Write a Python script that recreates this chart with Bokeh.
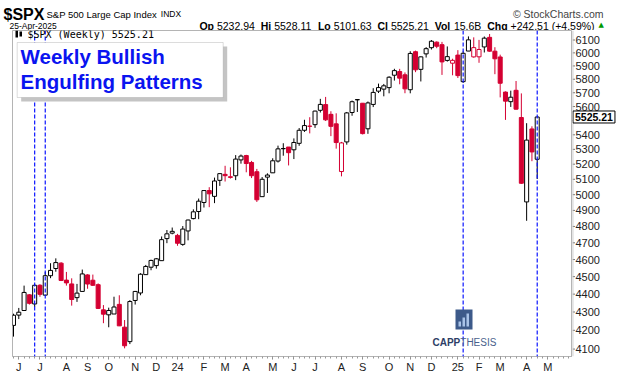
import pandas as pd
from bokeh.plotting import figure
from bokeh.layouts import column, row
from bokeh.models import (Range1d, FixedTicker, Span, Label, BoxAnnotation, ColumnDataSource)
from bokeh.core.properties import value
from bokeh.embed import file_html
from bokeh.resources import INLINE

# ---------------- data ----------------
week_end = pd.date_range("2023-06-02", periods=100, freq="W-FRI")
opens = [4226.71, 4282.99, 4308.32, 4396.11, 4344.84, 4450.48, 4394.24, 4505.42, 4547.38, 4578.83,
         4479.98, 4458.13, 4380.28, 4415.33, 4510.06, 4479.39, 4453.75, 4312.00, 4284.52, 4289.02,
         4342.37, 4217.04, 4139.39, 4364.27, 4406.66, 4511.70, 4554.86, 4564.37, 4593.39, 4725.58,
         4758.86, 4745.20, 4690.57, 4772.35, 4848.66, 4892.95, 4950.16, 5026.83, 4989.32, 5093.00,
         5132.38, 5111.96, 5123.31, 5228.75, 5257.97, 5211.37, 5149.67, 4987.33, 5114.13, 5142.42,
         5221.10, 5305.35, 5315.91, 5297.15, 5341.22, 5431.60, 5459.58, 5471.08, 5572.75, 5614.05,
         5544.00, 5476.55, 5151.14, 5351.00, 5557.00, 5650.00, 5623.89, 5442.07, 5615.21, 5711.90,
         5726.52, 5737.80, 5830.00, 5857.82, 5833.00, 5722.43, 6008.86, 5874.17, 5992.28, 6040.11,
         6083.18, 6063.48, 5942.00, 5920.67, 5982.81, 5782.00, 6014.00, 5969.04, 5969.65, 6046.00,
         6121.00, 6013.00, 5968.33, 5705.00, 5635.00, 5718.08, 5521.52, 4953.79, 5441.00, 5232.94]
highs = [4290.67, 4322.62, 4448.47, 4400.15, 4458.48, 4456.46, 4527.76, 4578.43, 4607.07, 4584.62,
         4527.37, 4490.33, 4458.30, 4541.25, 4514.29, 4511.99, 4461.03, 4338.51, 4324.10, 4385.46,
         4393.57, 4255.84, 4366.21, 4418.03, 4520.12, 4568.43, 4599.39, 4609.23, 4738.57, 4778.01,
         4793.30, 4754.33, 4802.40, 4842.07, 4906.69, 4975.29, 5030.06, 5048.39, 5111.06, 5140.33,
         5189.26, 5179.14, 5261.10, 5264.85, 5263.00, 5222.00, 5168.43, 5114.62, 5139.12, 5239.66,
         5325.49, 5341.88, 5315.91, 5375.08, 5447.25, 5505.53, 5523.64, 5570.33, 5655.56, 5669.67,
         5566.16, 5551.51, 5351.00, 5561.00, 5643.22, 5651.62, 5623.89, 5636.27, 5733.57, 5767.37,
         5765.00, 5822.13, 5878.46, 5878.00, 5850.94, 6012.45, 6017.31, 5972.90, 6044.17, 6099.97,
         6089.00, 6085.19, 6049.75, 5955.00, 6021.04, 6011.00, 6128.18, 6120.91, 6101.00, 6127.47,
         6147.43, 6043.65, 5986.09, 5710.00, 5715.33, 5786.95, 5695.31, 5481.34, 5459.46, 5528.11]
lows = [4166.15, 4261.07, 4307.18, 4341.34, 4328.08, 4384.97, 4389.92, 4491.15, 4528.56, 4474.55,
        4448.47, 4335.31, 4356.29, 4414.98, 4430.46, 4446.59, 4316.49, 4238.63, 4216.45, 4289.02,
        4223.03, 4103.78, 4126.28, 4341.34, 4393.57, 4511.70, 4537.24, 4546.50, 4593.39, 4697.82,
        4751.63, 4682.11, 4682.11, 4714.82, 4844.05, 4845.15, 4918.09, 4920.31, 4946.00, 5056.82,
        5085.36, 5104.35, 5094.34, 5203.42, 5146.06, 5107.94, 4953.56, 4987.33, 5011.05, 5142.42,
        5211.16, 5256.93, 5191.68, 5234.32, 5324.32, 5420.00, 5410.00, 5448.39, 5557.00, 5497.04,
        5390.95, 5305.00, 5119.26, 5332.00, 5534.00, 5560.95, 5402.62, 5406.96, 5596.00, 5698.00,
        5674.00, 5696.00, 5790.00, 5762.41, 5696.51, 5696.00, 5853.00, 5783.44, 5963.91, 6026.00,
        6036.00, 5832.30, 5932.95, 5829.53, 5809.00, 5773.31, 6014.00, 5962.92, 5923.93, 6003.00,
        6008.56, 5837.66, 5666.29, 5504.65, 5597.00, 5578.00, 5069.90, 4835.04, 5220.00, 5101.63]
closes = [4282.37, 4298.86, 4409.59, 4348.33, 4450.38, 4398.95, 4505.42, 4536.34, 4582.23, 4478.03,
          4464.05, 4369.71, 4405.71, 4515.77, 4457.49, 4450.32, 4320.06, 4288.05, 4308.50, 4327.78,
          4224.16, 4117.37, 4358.34, 4415.24, 4514.02, 4559.34, 4594.63, 4604.37, 4719.19, 4754.63,
          4769.83, 4697.24, 4783.83, 4839.81, 4890.97, 4958.61, 5026.61, 5005.57, 5088.80, 5137.08,
          5123.69, 5117.09, 5234.18, 5254.35, 5204.34, 5123.41, 4967.23, 5099.96, 5127.79, 5222.68,
          5303.27, 5304.72, 5277.51, 5346.99, 5431.60, 5464.62, 5460.48, 5567.19, 5615.35, 5505.00,
          5459.10, 5346.56, 5344.16, 5554.25, 5634.61, 5648.40, 5408.42, 5626.02, 5702.55, 5738.17,
          5751.07, 5815.03, 5864.67, 5808.12, 5728.80, 5995.54, 5870.62, 5969.34, 6032.38, 6090.27,
          6051.09, 5930.85, 5970.84, 5942.47, 5827.04, 5996.66, 6101.24, 6040.53, 6025.99, 6114.63,
          6013.13, 5954.50, 5770.20, 5638.94, 5667.56, 5580.94, 5074.08, 5363.36, 5282.70, 5525.21]
prior_close = 4205.45
volume_text = "15.6B"
date_text = "25-Apr-2025"

month_dates = ["2023-06-09", "2023-07-07", "2023-08-11", "2023-09-08", "2023-10-06", "2023-11-10",
               "2023-12-08", "2024-01-05", "2024-02-09", "2024-03-08", "2024-04-05", "2024-05-10",
               "2024-06-07", "2024-07-05", "2024-08-09", "2024-09-06", "2024-10-11", "2024-11-08",
               "2024-12-06", "2025-01-10", "2025-02-07", "2025-03-07", "2025-04-11", "2025-05-09"]
month_labels = ["J", "J", "A", "S", "O", "N", "D", "24", "F", "M", "A", "M",
                "J", "J", "A", "S", "O", "N", "D", "25", "F", "M", "A", "M"]
pattern_dates = ["2023-06-30", "2023-07-14", "2025-01-17", "2025-04-25"]
price_ticks = list(range(4100, 6101, 100))

# ---------------- styling ----------------
RED = "#d40032"
BLACK = "#000000"
GRAY = "#b4b4b4"
FONT = "Liberation Sans"
YR = Range1d(4061, 6175)

start = week_end[0]
def widx(d):
    return int(round((pd.Timestamp(d) - start).days / 7))

xs = list(range(len(closes)))
prev = [prior_close] + closes[:-1]
colors = [RED if c < p else BLACK for c, p in zip(closes, prev)]
fills = ["#ffffff" if c > o else col for o, c, col in zip(opens, closes, colors)]
tops = [max(o, c) for o, c in zip(opens, closes)]
bots = [min(o, c) for o, c in zip(opens, closes)]
src = ColumnDataSource(dict(x=xs, o=opens, h=highs, l=lows, c=closes,
                            color=colors, fill=fills, top=tops, bottom=bots))

# ---------------- main chart ----------------
p = figure(width=572, height=345, y_axis_type="log", y_axis_location=None,
           x_range=Range1d(-0.19, 105.67), y_range=YR,
           toolbar_location=None, output_backend="svg",
           min_border_left=12, min_border_right=0, min_border_top=0, min_border_bottom=17)
p.grid.visible = False
p.outline_line_color = GRAY
p.background_fill_color = "white"
p.border_fill_color = "white"

month_idx = [widx(d) for d in month_dates]
xax = p.xaxis[0]
xax.ticker = FixedTicker(ticks=month_idx, minor_ticks=list(range(0, 106)))
xax.major_label_overrides = {i: lab for i, lab in zip(month_idx, month_labels)}
xax.axis_line_color = GRAY
xax.major_tick_line_color = "#888888"
xax.minor_tick_line_color = "#999999"
xax.major_tick_in = 0
xax.major_tick_out = 3
xax.minor_tick_in = 0
xax.minor_tick_out = 2
xax.major_label_standoff = 1
xax.major_label_text_font = FONT
xax.major_label_text_font_size = "11px"
xax.major_label_text_color = "#222222"

for d in pattern_dates:
    p.add_layout(Span(location=widx(d), dimension="height", line_color="#0a14ff",
                      line_dash="4 2", line_width=1.2))

p.segment(x0="x", y0="l", x1="x", y1="h", line_color="color", line_width=1, source=src)
p.vbar(x="x", width=0.76, top="top", bottom="bottom", fill_color="fill",
       line_color="color", line_width=1, source=src)

def slab(fig, x, y, text, size, bold=False, color="#000000", font=FONT, align="left",
         baseline="alphabetic", units="screen"):
    fig.add_layout(Label(x=x, y=y, x_units=units, y_units=units, text=text,
                         text_font=font, text_font_size=f"{size}px",
                         text_font_style="bold" if bold else "normal",
                         text_color=color, text_align=align, text_baseline=baseline))

def sbox(fig, l, r, t, b, fill, line=None):
    fig.add_layout(BoxAnnotation(left=l, right=r, top=t, bottom=b,
                                 left_units="screen", right_units="screen",
                                 top_units="screen", bottom_units="screen",
                                 fill_color=fill, fill_alpha=1, line_color=line,
                                 line_width=1))

# legend row (frame-relative screen units: x from left 12px, y up from bottom 358px)
sbox(p, 3, 5.5, 326, 319, "#000000")
sbox(p, 7, 9.5, 325, 320, "#000000")
slab(p, 15, 322.5, f"$SPX (Weekly) {closes[-1]:.2f}", 10, font="DejaVu Sans Mono",
     baseline="middle")

# text box with shadow
sbox(p, 8.7, 214.7, 310, 255, "#c4c4c4")
sbox(p, 4.7, 210.7, 314, 259, "#ffffff", "#8a8a8a")
slab(p, 8, 299.7, "Weekly Bullish", 20.5, bold=True, color="#0a14f0", baseline="middle")
slab(p, 8, 274.7, "Engulfing Patterns", 20.5, bold=True, color="#0a14f0", baseline="middle")

# logo
sbox(p, 443, 460, 47, 27, "#3d5a8a")
for bl, bt in [(446, 35), (450, 39), (454, 43)]:
    sbox(p, bl, bl + 2.5, bt, 30, "#a9c3e8")
BOLDW = {'C': 722, 'A': 722, 'P': 667}
slab(p, 420, 14, "CAPP", 10, bold=True, color="#2d3e66")
slab(p, 420 + sum(BOLDW[c] for c in "CAPP") * 10 / 1000, 14, "THESIS", 10, color="#4a5f8c")

# ---------------- right price scale ----------------
r = figure(width=47, height=345, y_axis_type="log", y_axis_location=None,
           x_axis_location=None, x_range=Range1d(0, 47), y_range=YR,
           toolbar_location=None, output_backend="svg",
           min_border_left=0, min_border_right=0, min_border_top=0, min_border_bottom=17)
r.grid.visible = False
r.outline_line_color = None
r.background_fill_color = "white"
r.border_fill_color = "white"
r.add_layout(Span(location=0.3, dimension="height", line_color=GRAY, line_width=1))
tick_src = ColumnDataSource(dict(
    y=price_ticks,
    x0=[0] * len(price_ticks), x1=[2.5] * len(price_ticks), xt=[3] * len(price_ticks),
    t=["" if v == 5500 else str(v) for v in price_ticks]))
r.segment(x0="x0", y0="y", x1="x1", y1="y", line_color="#777777", line_width=1, source=tick_src)
r.text(x="xt", y="y", text="t", text_font=value(FONT), text_font_size="11px",
       text_color="#222222", text_baseline="middle", source=tick_src)
r.add_layout(Label(x=0.5, y=closes[-1], x_units="data", y_units="data",
                   text=f"{closes[-1]:.2f}", text_font=FONT, text_font_size="10.5px",
                   text_font_style="bold", text_color="#000000", text_baseline="middle",
                   background_fill_color="white", border_line_color="#000000",
                   border_line_width=1, padding=2))

# ---------------- header ----------------
h = figure(width=619, height=30, x_range=Range1d(0, 619), y_range=Range1d(30, 0),
           x_axis_location=None, y_axis_location=None, toolbar_location=None,
           output_backend="svg", min_border=0)
h.grid.visible = False
h.outline_line_color = None
h.background_fill_color = "white"
h.border_fill_color = "white"

REG = {' ': 278, '.': 278, '+': 584, '(': 333, ')': 333, '%': 889, '-': 333, 'B': 667,
       'S': 667, '&': 667, 'P': 667, 'L': 556, 'a': 556, 'r': 333, 'g': 556, 'e': 556,
       'C': 722, 'p': 556, 'I': 278, 'n': 556, 'd': 556, 'x': 500}
BOLD = {' ': 278, 'O': 778, 'p': 611, 'H': 722, 'i': 278, 'L': 611, 'o': 611, 'C': 722,
        'l': 278, 'V': 667, 'h': 611, 'g': 611, '$': 556, 'S': 667, 'P': 667, 'X': 667,
        'A': 722, '.': 278}

def tw(s, size, bold=False):
    t = BOLD if bold else REG
    return sum(t.get(ch, 556) for ch in s) * size / 1000.0

name_text = "S&P 500 Large Cap Index"
slab(h, 3, 14, "$SPX", 16, bold=True, units="data")
slab(h, 46, 13.5, name_text, 9.5, units="data")
slab(h, 46 + tw(name_text, 9.5) + 4, 13.5, "INDX", 8.5, units="data")
slab(h, 603, 13, "\u00a9 StockCharts.com", 10.5, color="#444444", align="right", units="data")

slab(h, 9, 25, date_text, 8.5, units="data")
chg = closes[-1] - closes[-2]
pct = chg / closes[-2] * 100
segs = [("Op", True), (f"{opens[-1]:.2f}", False), ("Hi", True), (f"{highs[-1]:.2f}", False),
        ("Lo", True), (f"{lows[-1]:.2f}", False), ("Cl", True), (f"{closes[-1]:.2f}", False),
        ("Vol", True), (volume_text, False), ("Chg", True),
        (f"+{chg:.2f} (+{pct:.2f}%)", False)]
FS = 10.5
sp = tw(" ", FS)
total = sum(tw(s, FS, b) for s, b in segs) + sp * len(segs) + sp * (len(segs) // 2 - 1)
cx = 597 - total
for k, (s, b) in enumerate(segs):
    slab(h, cx, 25, s, FS, bold=b, units="data")
    cx += tw(s, FS, b) + (sp if b else 2 * sp)
slab(h, 598, 24.5, "\u25b2", 7, color="#009a00", font="DejaVu Sans", units="data")

layout = column(h, row(p, r, spacing=0), spacing=0)
open("out.html", "w").write(file_html(layout, INLINE))
